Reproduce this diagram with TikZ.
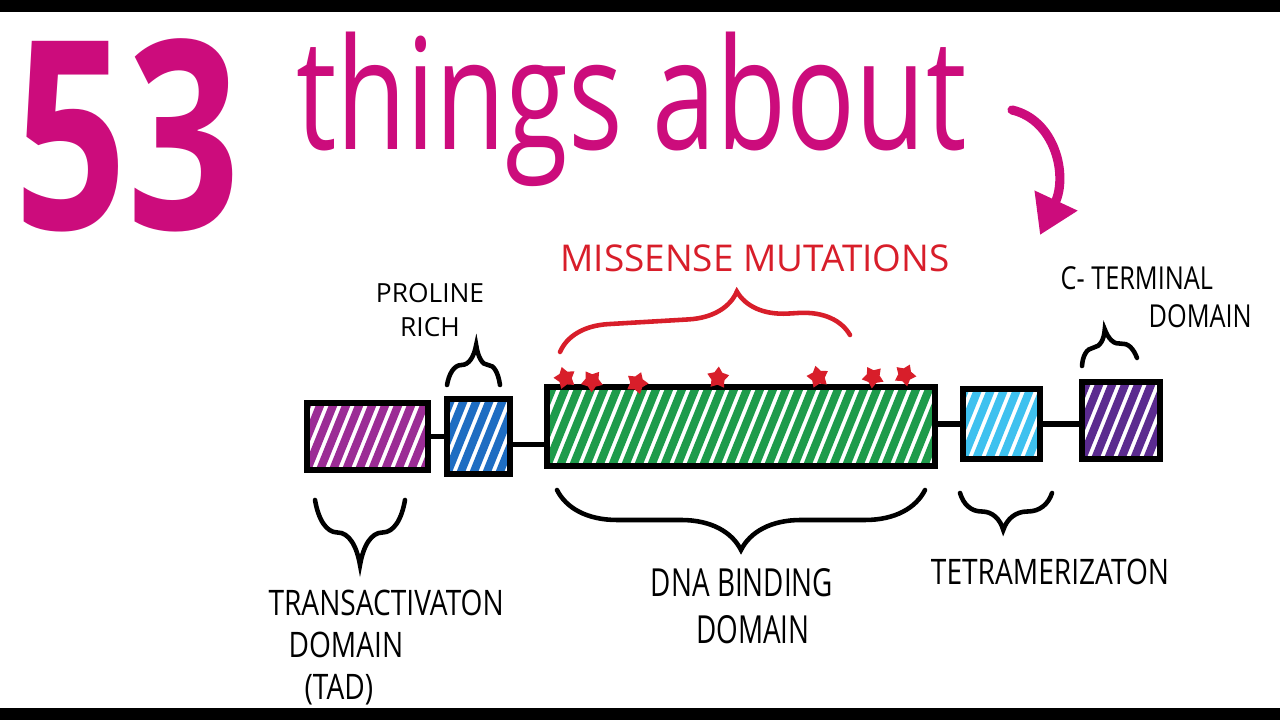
\documentclass[tikz,border=0pt]{standalone}
\usepackage{fontspec}
\setmainfont{Open Sans}
\usetikzlibrary{positioning,decorations.pathreplacing,arrows.meta,shapes.geometric}

\definecolor{titlemag}{HTML}{CC0C7C}
\definecolor{mutred}{HTML}{D81E2A}
\definecolor{tadcol}{HTML}{9B2C95}
\definecolor{procol}{HTML}{1E6DC2}
\definecolor{dbdcol}{HTML}{1E9B4B}
\definecolor{tetcol}{HTML}{3EC1EF}
\definecolor{ctcol}{HTML}{5B2B8F}

\tikzset{
  domainbox/.style={draw=black, line width=1.5pt, inner sep=0pt, outer sep=0pt,
    path picture={\foreach \k in {-6,...,34}
      \draw[#1, line width=2.3pt, line cap=round]
        ([xshift=\k*1.3mm]path picture bounding box.south west) -- ++(68:2cm);}},
  link/.style={line width=1.5pt},
  curly/.style={decorate, line width=1.3pt, line cap=round},
  lbl/.style={inner sep=0pt, xscale=0.8},
  mutmark/.style={star, star points=5, star point ratio=1.7, fill=mutred, inner sep=0pt, minimum size=2.3mm}
}

\begin{document}
\begin{tikzpicture}
    \useasboundingbox (0,0) rectangle (12.8,7.2);
    \fill[black] (0,0) rectangle (12.8,7.2);
    \fill[white] (0,0.12) rectangle (12.8,7.08);

    % title
    \node[titlemag, inner sep=0pt, xscale=1.5, yscale=2, font=\fontsize{37.5}{37.5}\selectfont\bfseries] (fiftythree) at (1.27,5.85) {53};
    \node[titlemag, inner sep=0pt, xscale=1.48, yscale=2, anchor=base west, font=\fontsize{22}{22}\selectfont] (things) at (2.95,5.70) {things about};
    \coordinate (arrs) at (10.12,6.10);
    \coordinate (arre) at (10.40,4.85);
    \draw[titlemag, line width=2.6pt, line cap=round, -{Triangle[length=3.8mm,width=4.5mm]}]
        (arrs) .. controls (10.55,6.0) and (10.68,5.45) .. (arre);

    % domains
    \node[domainbox=tadcol, minimum width=1.21cm, minimum height=0.67cm] (tad) at (3.675,2.835) {};
    \node[domainbox=procol, minimum width=0.63cm, minimum height=0.75cm, right=0.19cm of tad] (pro) {};
    \node[domainbox=dbdcol, minimum width=3.88cm, minimum height=0.79cm, right=0.37cm of pro, yshift=1mm] (dbd) {};
    \node[domainbox=tetcol, minimum width=0.77cm, minimum height=0.70cm, right=0.28cm of dbd, yshift=0.25mm] (tet) {};
    \node[domainbox=ctcol, minimum width=0.78cm, minimum height=0.77cm, right=0.42cm of tet, yshift=0.35mm] (cter) {};

    \draw[link] (tad.east) -- (pro.west);
    \draw[link] ([yshift=-0.8mm]pro.east) -- ([yshift=-0.8mm]pro.east -| dbd.west);
    \draw[link] (tet.west -| dbd.east) -- (tet.west);
    \draw[link] (tet.east) -- (tet.east -| cter.west);

    % mutations
    \foreach \x/\y [count=\i] in {5.65/3.42, 5.92/3.39, 6.37/3.37, 7.18/3.42, 8.18/3.43, 8.73/3.43, 9.05/3.45}
        \node[mutmark, rotate=\i*17] (mut\i) at (\x,\y) {};

    % braces
    \coordinate (misl) at (5.60,3.68);
    \coordinate (misr) at (8.50,3.85);
    \draw[curly, mutred, decoration={brace, amplitude=5mm, aspect=0.62}] (misl) -- (misr);
    \draw[curly, decoration={brace, amplitude=4mm, aspect=0.55}] ([yshift=1.4mm]pro.north west) -- ([xshift=-1mm,yshift=1.4mm]pro.north east);
    \draw[curly, decoration={brace, amplitude=3.3mm, aspect=0.5}] ([yshift=1.6mm]cter.north west) -- ([xshift=-2.3mm,yshift=2.4mm]cter.north east);
    \draw[curly, decoration={brace, amplitude=6.5mm, aspect=0.5}] ([xshift=-2.3mm,yshift=-3mm]tad.south east) -- ([xshift=0.8mm,yshift=-3mm]tad.south west);
    \draw[curly, decoration={brace, amplitude=6mm, aspect=0.5}] ([xshift=-1mm,yshift=-2.4mm]dbd.south east) -- ([xshift=1mm,yshift=-2.4mm]dbd.south west);
    \draw[curly, decoration={brace, amplitude=3.7mm, aspect=0.53}] ([xshift=1.2mm,yshift=-3.4mm]tet.south east) -- ([xshift=-0.3mm,yshift=-3.4mm]tet.south west);

    % labels
    \node[inner sep=0pt, mutred, font=\fontsize{10.5}{12}\selectfont] (mislbl) at (7.55,4.62) {MISSENSE MUTATIONS};
    \node[inner sep=0pt, align=center, font=\fontsize{7.5}{9.5}\selectfont] (prolbl) at (4.30,4.10) {PROLINE\\RICH};
    \node[lbl, align=left, anchor=west, font=\fontsize{9}{10.8}\selectfont] (cterlbl) at (10.60,4.225) {C- TERMINAL\\\hspace*{1.1cm}DOMAIN};
    \node[lbl, align=left, anchor=north west, font=\fontsize{10}{12}\selectfont] (tadlbl) at (2.68,1.31) {TRANSACTIVATON\\\hspace*{0.25cm}DOMAIN\\\hspace*{0.45cm}(TAD)};
    \node[lbl, xscale=0.9, align=center, font=\fontsize{11}{13.4}\selectfont] (dbdlbl) at (7.42,1.14) {DNA BINDING\\\hspace*{0.3cm}DOMAIN};
    \node[lbl, font=\fontsize{10}{12}\selectfont] (tetlbl) at (10.50,1.48) {TETRAMERIZATON};
\end{tikzpicture}
\end{document}
